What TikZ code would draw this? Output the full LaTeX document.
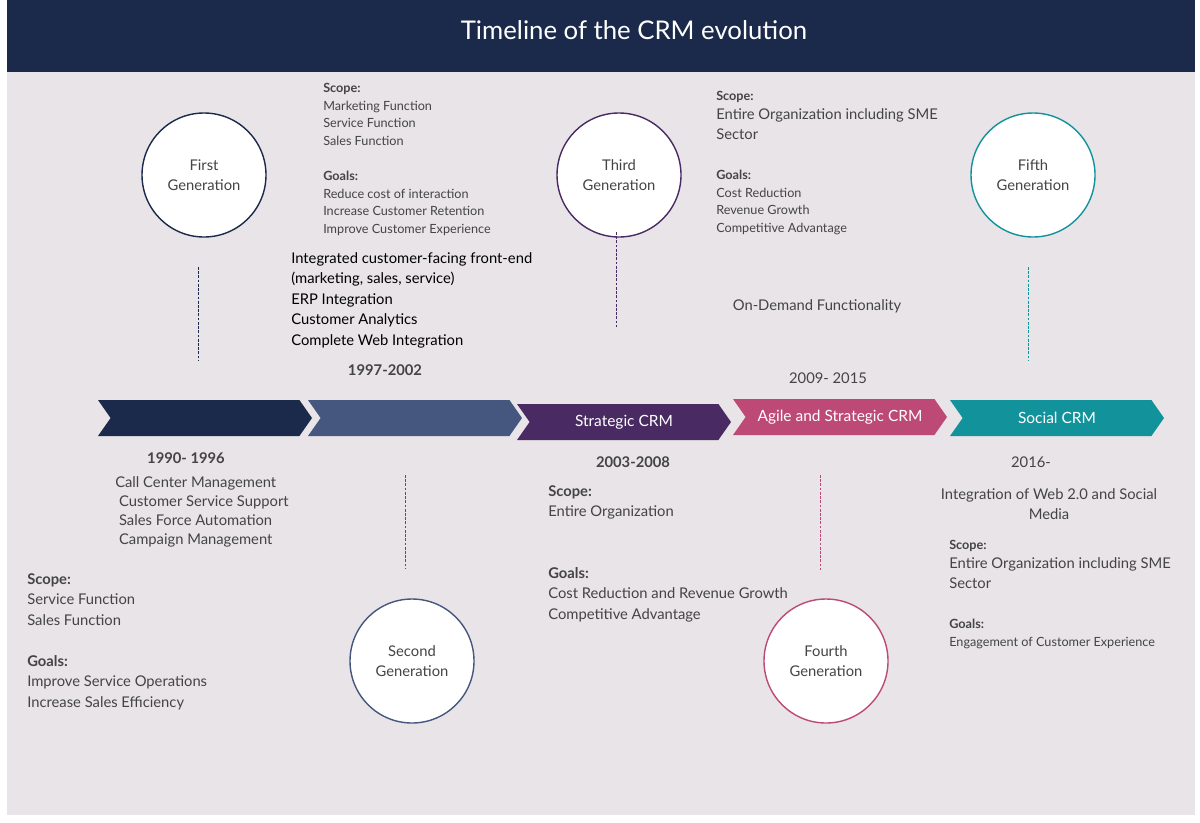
\documentclass[tikz,border=0pt]{standalone}
\usepackage{fontspec}
\setmainfont{Lato}
\usetikzlibrary{shapes.symbols}
\definecolor{navy}{HTML}{1B2A4A}
\definecolor{slate}{HTML}{45577F}
\definecolor{plum}{HTML}{4A2A63}
\definecolor{rose}{HTML}{BD4A76}
\definecolor{teal}{HTML}{12939B}
\definecolor{panel}{HTML}{E8E4E8}
\definecolor{ink}{HTML}{444444}
\tikzstyle{Gen}=[circle, fill=white, line width=1pt, minimum size=124*0.025cm, align=center, text=ink, font=\fontsize{10.5}{14}\selectfont]
\tikzstyle{Phase}=[signal, signal to=east, signal from=west, signal pointer angle=110, minimum width=214*0.025cm, minimum height=36*0.025cm, text=white, font=\fontsize{11}{12}\selectfont, inner sep=0pt]
\tikzstyle{Info}=[anchor=north west, align=left, text=ink, inner sep=0pt, font=\fontsize{10.5}{14.6}\selectfont]
\tikzstyle{Small}=[anchor=north west, align=left, text=ink, inner sep=0pt, font=\fontsize{9}{12.5}\selectfont]
\tikzstyle{Year}=[text=ink, inner sep=0pt, font=\fontsize{10.5}{12}\selectfont]
\tikzstyle{Drop}=[dashed, dash pattern=on 2pt off 1pt, line width=0.7pt]

\begin{document}
\begin{tikzpicture}[x=0.025cm, y=-0.025cm]
    \useasboundingbox (0,0) rectangle (1200,822);
    \fill[white] (0,0) rectangle (1200,822);
    \fill[panel] (7,72) rectangle (1195,815);
    \fill[navy] (7,0) rectangle (1195,72);
    \path (634,30) node[text=white, font=\fontsize{18.3}{20}\selectfont] (title) {Timeline of the CRM evolution};

    % chevrons
    \path
    (205,418) node[Phase, fill=navy] (p1) {}
    (415,418) node[Phase, fill=slate] (p2) {}
    (624,422) node[Phase, fill=plum] (p3) {Strategic CRM}
    (840,417) node[Phase, fill=rose] (p4) {Agile and Strategic CRM}
    (1057,418) node[Phase, fill=teal] (p5) {Social CRM};

    % generations
    \path
    (204,175) node[Gen, draw=navy] (g1) {First\\Generation}
    (412,661) node[Gen, draw=slate] (g2) {Second\\Generation}
    (619,175) node[Gen, draw=plum] (g3) {Third\\Generation}
    (826,661) node[Gen, draw=rose] (g4) {Fourth\\Generation}
    (1033,175) node[Gen, draw=teal] (g5) {Fifth\\Generation};

    \coordinate (d1a) at (198,267); \coordinate (d1b) at (198,360);
    \coordinate (d2a) at (405,475); \coordinate (d2b) at (405,568);
    \coordinate (d3a) at (616,232); \coordinate (d3b) at (616,327);
    \coordinate (d4a) at (820,475); \coordinate (d4b) at (820,570);
    \coordinate (d5a) at (1028,267); \coordinate (d5b) at (1028,360);
    \draw[Drop, navy] (d1a) -- (d1b);
    \draw[Drop, slate] (d2a) -- (d2b);
    \draw[Drop, plum] (d3a) -- (d3b);
    \draw[Drop, rose] (d4a) -- (d4b);
    \draw[Drop, teal] (d5a) -- (d5b);

    % years
    \path
    (186,458) node[Year, font=\fontsize{10.5}{12}\bfseries] (y1) {1990- 1996}
    (385,370) node[Year, font=\fontsize{10.5}{12}\bfseries] (y2) {1997-2002}
    (633,462) node[Year, font=\fontsize{10.5}{12}\bfseries] (y3) {2003-2008}
    (828,378) node[Year] (y4) {2009- 2015}
    (1031,462) node[Year] (y5) {2016-};

    % first generation
    \path (115,476) node[Info] (f1) {Call Center Management\\[-1pt]\ Customer Service Support\\[-1pt]\ Sales Force Automation\\[-1pt]\ Campaign Management}
    (27,573) node[Info] (s1) {\textbf{Scope:}\\Service Function\\Sales Function}
    (27,655) node[Info] (o1) {\textbf{Goals:}\\Improve Service Operations\\Increase Sales Efficiency};

    % second generation
    \path (323,83) node[Small] (s2) {\textbf{Scope:}\\Marketing Function\\Service Function\\Sales Function}
    (323,171) node[Small] (o2) {\textbf{Goals:}\\Reduce cost of interaction\\Increase Customer Retention\\Improve Customer Experience}
    (291,252) node[Info, text=black] (f2) {Integrated customer-facing front-end\\(marketing, sales, service)\\ERP Integration\\Customer Analytics\\Complete Web Integration};

    % third generation
    \path (548,485) node[Info] (s3) {\textbf{Scope:}\\Entire Organization}
    (548,567) node[Info] (o3) {\textbf{Goals:}\\Cost Reduction and Revenue Growth\\Competitive Advantage};

    % fourth generation
    \path (716,91) node[Small] (s4) {\textbf{Scope:}}
    (716,108) node[Info] (e4) {Entire Organization including SME\\Sector}
    (716,170) node[Small] (o4) {\textbf{Goals:}\\Cost Reduction\\Revenue Growth\\Competitive Advantage}
    (817,306) node[Year] (f4) {On-Demand Functionality};

    % fifth generation
    \path (1049,504) node[Year, align=center, font=\fontsize{10.5}{14.6}\selectfont] (f5) {Integration of Web 2.0 and Social\\Media}
    (949,540) node[Small] (s5) {\textbf{Scope:}}
    (949,557) node[Info] (e5) {Entire Organization including SME\\Sector}
    (949,619) node[Small] (o5) {\textbf{Goals:}\\Engagement of Customer Experience};
\end{tikzpicture}
\end{document}
